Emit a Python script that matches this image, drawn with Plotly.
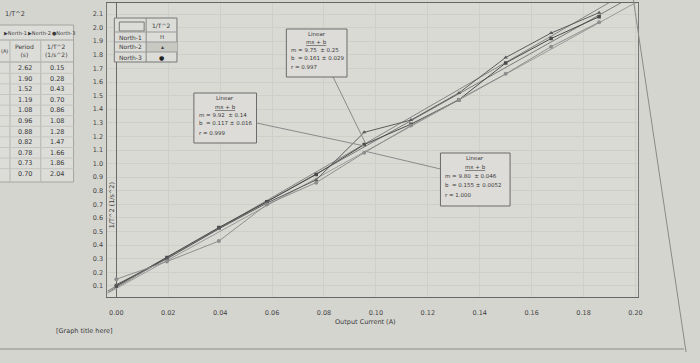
import numpy as np
import plotly.graph_objects as go

W, H = 700, 363

# ---------------- data ----------------
current = [0.000, 0.0195, 0.0395, 0.058, 0.077, 0.0955, 0.1135, 0.132, 0.150, 0.1675, 0.186]
north1 = [0.10, 0.31, 0.53, 0.72, 0.92, 1.14, 1.29, 1.47, 1.74, 1.92, 2.08]
north2 = [0.11, 0.30, 0.52, 0.71, 0.88, 1.23, 1.32, 1.52, 1.78, 1.96, 2.11]
north3 = [0.15, 0.28, 0.43, 0.70, 0.86, 1.08, 1.28, 1.47, 1.66, 1.86, 2.04]
period = [2.62, 1.90, 1.52, 1.19, 1.08, 0.96, 0.88, 0.82, 0.78, 0.73, 0.70]
inv_t2 = [0.15, 0.28, 0.43, 0.70, 0.86, 1.08, 1.28, 1.47, 1.66, 1.86, 2.04]
x_ticks = [0.00, 0.02, 0.04, 0.06, 0.08, 0.10, 0.12, 0.14, 0.16, 0.18, 0.20]
y_ticks = [0.1, 0.2, 0.3, 0.4, 0.5, 0.6, 0.7, 0.8, 0.9, 1.0, 1.1, 1.2, 1.3, 1.4, 1.5,
           1.6, 1.7, 1.8, 1.9, 2.0, 2.1]
fit_m = ["9.92", "9.75", "9.80"]
fit_dm = ["0.14", "0.25", "0.046"]
fit_b = ["0.117", "0.161", "0.155"]
fit_db = ["0.016", "0.029", "0.0052"]
fit_r = ["0.999", "0.997", "1.000"]

# ---------------- layout helpers ----------------
L, R, T, B = 108, 642, 3, 297
xr = [-0.00345, 0.2011]
yr = [0.019, 2.181]
FONT = "DejaVu Sans"
TXT = "#3a3a3a"


def P(px):
    return px / W


def Q(py):
    return 1 - py / H


def px2x(px):
    return xr[0] + (px - L) / (R - L) * (xr[1] - xr[0])


def py2y(py):
    return yr[1] - (py - T) / (B - T) * (yr[1] - yr[0])


fig = go.Figure()

series = [("North-1", north1, "#4a4a4a", "square", 3.5, "#7a7a7a"),
          ("North-2", north2, "#5c5c5c", "triangle-up", 4, "#858585"),
          ("North-3", north3, "#8e8e8e", "circle", 4, "#9a9a9a")]

fits = []
xs_line = np.array(xr)
for name, ys, col, sym, sz, fcol in series:
    m, b = np.polyfit(current, ys, 1)
    fits.append((m, b))
    fig.add_trace(go.Scatter(x=xs_line, y=m * xs_line + b, mode="lines",
                             line=dict(color=fcol, width=1), showlegend=False,
                             hoverinfo="skip"))
for name, ys, col, sym, sz, fcol in series:
    fig.add_trace(go.Scatter(x=current, y=ys, mode="lines+markers", name=name,
                             line=dict(color=col, width=1),
                             marker=dict(symbol=sym, size=sz, color=col),
                             showlegend=False))

shapes = []
ann = []


def text(t, px, py, size=6.5, xanchor="center", color=TXT, angle=0):
    ann.append(dict(text=t, x=P(px), y=Q(py), xref="paper", yref="paper",
                    xanchor=xanchor, yanchor="middle", showarrow=False,
                    textangle=angle, font=dict(family=FONT, size=size, color=color)))


def rect(x0, y0, x1, y1, line="#777", fill="rgba(0,0,0,0)", w=1):
    shapes.append(dict(type="rect", xref="paper", yref="paper", x0=P(x0), x1=P(x1),
                       y0=Q(y0), y1=Q(y1), line=dict(color=line, width=w),
                       fillcolor=fill, layer="above"))


def pline(x0, y0, x1, y1, color="#999", w=1):
    shapes.append(dict(type="line", xref="paper", yref="paper", x0=P(x0), x1=P(x1),
                       y0=Q(y0), y1=Q(y1), line=dict(color=color, width=w),
                       layer="above"))


# ---------------- left data table ----------------
text("1/T^2", 3, 14, size=6.5, xanchor="left")
rect(-3, 25, 74, 182, line="#a5a5a0", fill="#dcdcd8")
pline(-3, 40, 74, 40, "#a5a5a0")
pline(-3, 62, 74, 62, "#a5a5a0")
text("▶North-1", 2, 33, size=5, xanchor="left")
text("▶North-2", 26, 33, size=5, xanchor="left")
text("●North-3", 50, 33, size=5, xanchor="left")
text("(A)", 5, 51, size=5)
text("Period<br>(s)", 25, 51, size=6)
text("1/T^2<br>(1/s^2)", 57, 51, size=6)
pline(10, 40, 10, 182, "#b5b5b0")
pline(41, 40, 41, 182, "#b5b5b0")
row0, dy = 68, 10.6
for i, (pv, iv) in enumerate(zip(period, inv_t2)):
    yy = row0 + i * dy
    text(f"{pv:.2f}", 25, yy, size=6.5)
    text(f"{iv:.2f}", 57, yy, size=6.5)
    if i > 0:
        pline(-3, yy - dy / 2, 74, yy - dy / 2, "#c6c6c1")

# ---------------- legend table inside plot ----------------
rect(115, 18, 178, 62, line="#777", fill="#dcdcd8")
shapes.append(dict(type="rect", xref="paper", yref="paper", x0=P(147), x1=P(178),
                   y0=Q(42), y1=Q(52), line=dict(width=0), fillcolor="#c9c9c4",
                   layer="above"))
rect(120, 22, 145, 31, line="#777")
pline(147, 18, 147, 62, "#888")
for yy in (32, 42, 52):
    pline(115, yy, 178, yy, "#999")
text("1/T^2", 162, 25.5, size=6)
text("North-1", 131, 37, size=6)
text("North-2", 131, 47, size=6)
text("North-3", 131, 57, size=6)
text("H", 163, 37, size=5.5, color="#444")
text("▴", 163, 47, size=6, color="#444")
text("●", 162, 57, size=6, color="#222")

# ---------------- fit boxes ----------------
boxes = [(195, 93, 258, 143, (258, 123)),
         (288, 29, 349, 77, (335, 77)),
         (443, 153, 513, 206, (443, 169))]
x_mid = 0.096
for k, (x0, y0, x1, y1, edge) in enumerate(boxes):
    m, b = fits[k]
    shapes.append(dict(type="line", xref="x", yref="y", x0=px2x(edge[0]),
                       y0=py2y(edge[1]), x1=x_mid, y1=m * x_mid + b,
                       line=dict(color="#8a8a8a", width=1), layer="above"))
    rect(x0, y0, x1, y1, line="#6a6a6a", fill="#dddcd8")
    cx = (x0 + x1) / 2
    h = y1 - y0
    text("Linear", cx, y0 + 0.10 * h, size=5.5)
    text("<u>mx + b</u>", cx, y0 + 0.27 * h, size=5.5)
    text(f"m = {fit_m[k]}  ± {fit_dm[k]}", x0 + 3, y0 + 0.44 * h, size=5.5, xanchor="left")
    text(f"b  = {fit_b[k]} ± {fit_db[k]}", x0 + 3, y0 + 0.61 * h, size=5.5, xanchor="left")
    text(f"r = {fit_r[k]}", x0 + 3, y0 + 0.80 * h, size=5.5, xanchor="left")

# ---------------- titles ----------------
text("Output Current (A)", 368, 322, size=6.5)
text("1/T^2 (1/s^2)", 113, 205, size=6.5, angle=-90)
text("[Graph title here]", 85, 331, size=6.5)

# outer photo frame lines
pline(0, 349, 688, 349, "#8a8a86")
pline(637, 0, 690, 352, "#8a8a86")

fig.update_layout(
    width=W, height=H, margin=dict(l=0, r=0, t=0, b=0),
    paper_bgcolor="#d5d5d0", plot_bgcolor="#dadad5",
    font=dict(family=FONT, size=6.5, color=TXT),
    shapes=shapes, annotations=ann, showlegend=False,
    xaxis=dict(domain=[P(L), P(R)], range=xr, tickvals=x_ticks,
               ticktext=[f"{v:.2f}" for v in x_ticks], showgrid=True,
               gridcolor="#cfcfca", gridwidth=1, zeroline=True,
               zerolinecolor="#6a6a6a", zerolinewidth=1, showline=True,
               linecolor="#666", mirror=True, ticks="", ticklabelstandoff=9,
               tickfont=dict(family=FONT, size=6.5, color="#444")),
    yaxis=dict(domain=[Q(B), Q(T)], range=yr, tickvals=y_ticks,
               ticktext=[f"{v:.1f}" for v in y_ticks], showgrid=True,
               gridcolor="#cfcfca", gridwidth=1, zeroline=False, showline=True,
               linecolor="#777", mirror=True, ticks="", ticklabelstandoff=2,
               tickfont=dict(family=FONT, size=6.5, color="#444")),
)

fig.write_html("out.html")
